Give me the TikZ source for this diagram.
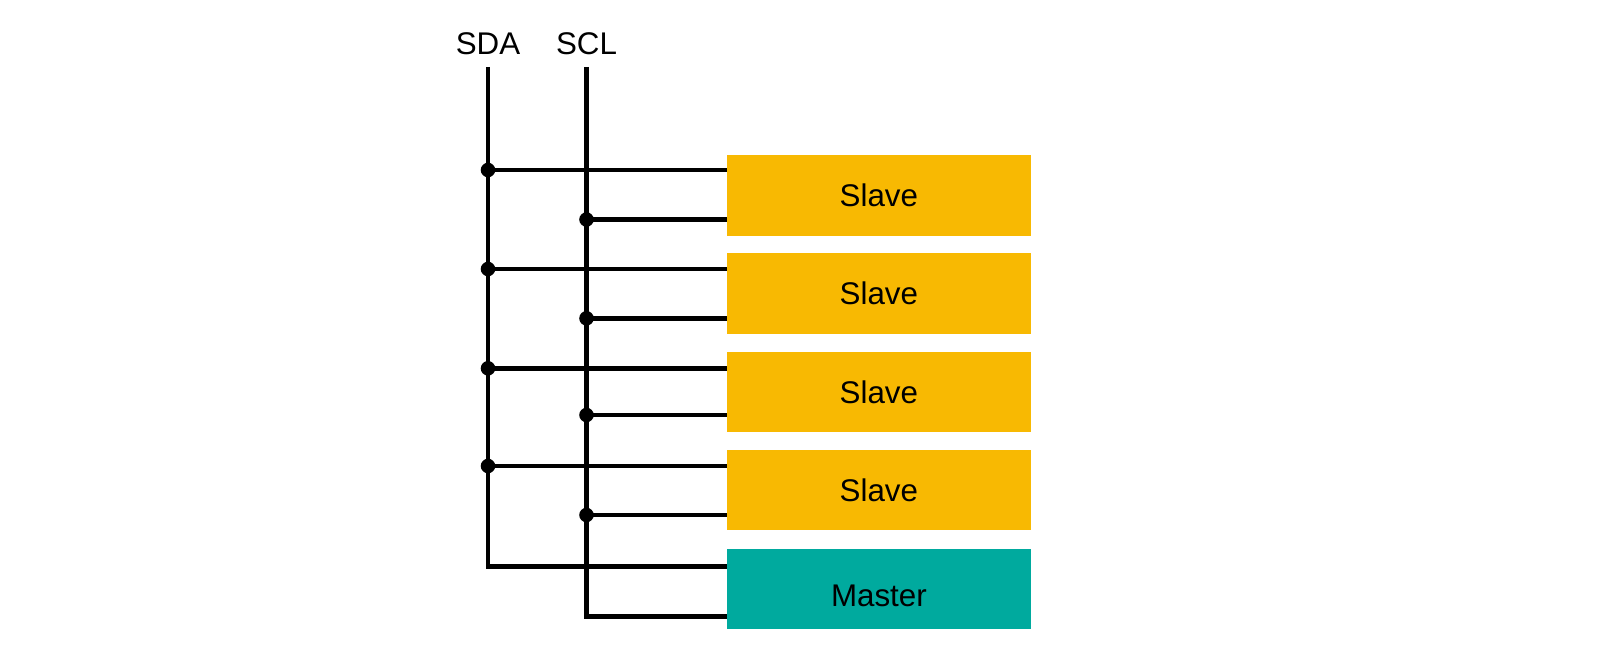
\documentclass[tikz,border=0pt]{standalone}
\usepackage{fontspec}
\setmainfont{Liberation Sans}
\begin{document}
\begin{tikzpicture}[x=0.75pt,y=-0.75pt,
  wire/.style={line width=3.6pt,line cap=butt},
  dot/.style={circle,fill=black,inner sep=0pt,minimum size=10.9pt},
  unitbox/.style={minimum width=227.8pt,minimum height=60.5pt,inner sep=0pt,
    text height=16.8pt,text depth=0pt,font=\fontsize{23.5}{28}\selectfont},
  slavebox/.style={unitbox,fill=slaveyellow},
  masterbox/.style={unitbox,fill=masterteal,text height=25.8pt},
  lbl/.style={font=\fontsize{23.5}{28}\selectfont,inner sep=0pt,anchor=base}]
\definecolor{slaveyellow}{HTML}{F8B902}
\definecolor{masterteal}{HTML}{00AA9E}
\useasboundingbox (0,0) rectangle (1604,663);
% boxes
\node[slavebox] (s1) at (878.9,195.4) {Slave};
\node[slavebox] (s2) at (878.9,293.5) {Slave};
\node[slavebox] (s3) at (878.9,392.0) {Slave};
\node[slavebox] (s4) at (878.9,490.0) {Slave};
\node[masterbox] (m) at (878.9,589.0) {Master};
% labels
\node[lbl] (sda) at (488,54.5) {SDA};
\node[lbl] (scl) at (586.5,54.5) {SCL};
% bus coordinates
\coordinate (sdatop) at (488,67);
\coordinate (scltop) at (586.5,67);
\coordinate (sdabot) at (488,566.5);
\coordinate (sclbot) at (586.5,616.5);
\draw[wire] (sdatop) -- (sdabot) -- (sdabot -| m.west);
\draw[wire] (scltop) -- (sclbot) -- (sclbot -| m.west);
\foreach \i/\ya/\yc in {1/170/219.5,2/269/318.3,3/368.3/415,4/466/515}{
  \coordinate (a\i) at (488,\ya);
  \coordinate (c\i) at (586.5,\yc);
  \draw[wire] (a\i) -- (a\i -| s\i.west);
  \draw[wire] (c\i) -- (c\i -| s\i.west);
  \node[dot] at (a\i) {};
  \node[dot] at (c\i) {};
}
\end{tikzpicture}
\end{document}
